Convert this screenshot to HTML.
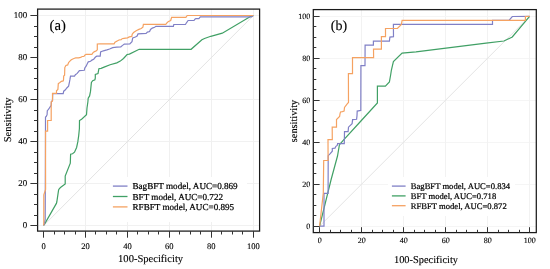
<!DOCTYPE html>
<html><head><meta charset="utf-8"><style>
html,body{margin:0;padding:0;background:#fff;}
body{width:550px;height:269px;overflow:hidden;position:relative;}
svg{position:absolute;left:0;top:0;display:block;}
svg text{font-family:"Liberation Serif", serif;stroke:#000;stroke-width:0.12px;text-rendering:geometricPrecision;}
.lg{stroke:#000;stroke-width:0.22px;}
</style></head><body>
<div style="position:absolute;left:0;top:0;width:550px;height:269px;will-change:transform;">
<svg width="550" height="269" viewBox="0 0 550 269">
<rect x="0" y="0" width="550" height="269" fill="#fff"/>
<line x1="37.60" y1="225.50" x2="259.60" y2="225.50" stroke="#f1f1f1" stroke-width="1"/>
<line x1="85.50" y1="9.10" x2="85.50" y2="231.10" stroke="#f0f0f0" stroke-width="1"/>
<line x1="37.60" y1="183.50" x2="259.60" y2="183.50" stroke="#f1f1f1" stroke-width="1"/>
<line x1="127.50" y1="9.10" x2="127.50" y2="231.10" stroke="#f0f0f0" stroke-width="1"/>
<line x1="37.60" y1="141.50" x2="259.60" y2="141.50" stroke="#f1f1f1" stroke-width="1"/>
<line x1="169.50" y1="9.10" x2="169.50" y2="231.10" stroke="#f0f0f0" stroke-width="1"/>
<line x1="37.60" y1="99.50" x2="259.60" y2="99.50" stroke="#f1f1f1" stroke-width="1"/>
<line x1="211.50" y1="9.10" x2="211.50" y2="231.10" stroke="#f0f0f0" stroke-width="1"/>
<line x1="253.50" y1="9.10" x2="253.50" y2="231.10" stroke="#f0f0f0" stroke-width="1"/>
<line x1="37.60" y1="15.50" x2="259.60" y2="15.50" stroke="#f1f1f1" stroke-width="1"/>
<line x1="43.55" y1="225.60" x2="253.25" y2="15.60" stroke="#e4e4e4" stroke-width="1"/>
<rect x="110" y="177" width="137" height="45" fill="#fff"/>
<polyline points="43.5,225.4 44.3,224.6 56.4,203.4 56.8,202.0 58.6,190.0 59.4,188.5 60.8,187.2 65.2,184.0 65.2,176.0 70.3,163.2 70.6,154.2 72.5,153.8 74.5,152.2 76.6,147.5 77.8,141.9 78.7,135.6 79.4,128.5 79.5,120.5 81.6,119.2 86.5,114.7 87.0,108.0 87.9,101.8 88.2,98.1 89.6,95.9 90.5,91.4 91.4,82.5 92.7,80.7 94.9,79.8 95.3,78.0 95.3,74.5 98.0,73.6 98.9,68.7 101.1,68.3 104.7,66.9 110.1,64.7 116.8,62.9 120.3,61.1 123.5,58.5 127.1,54.5 129.4,54.1 139.2,49.3 191.1,49.3 201.9,39.8 204.5,38.5 210.8,36.3 222.3,33.2 250.0,16.7 253.3,15.5" fill="none" stroke="#40a065" stroke-width="1.2" stroke-linejoin="miter"/>
<polyline points="43.5,225.4 44.3,224.2 45.2,219.4 45.3,189.4 45.5,131.0 45.5,117.0 46.2,116.5 47.1,114.7 47.3,110.7 48.5,109.4 49.4,108.0 50.3,106.7 51.2,105.3 51.5,101.5 52.5,100.5 52.7,93.6 63.2,93.6 63.7,91.2 65.4,89.8 66.8,88.0 68.6,86.2 69.5,81.8 70.0,79.2 70.5,76.1 74.5,76.1 75.4,74.7 77.2,73.4 79.4,70.7 84.3,70.3 84.8,68.0 86.1,66.2 87.4,63.6 88.3,61.8 90.6,61.3 91.9,60.1 93.7,59.2 95.5,57.0 96.8,56.2 100.2,56.2 100.6,52.0 103.4,50.8 106.9,49.9 109.6,49.0 112.7,47.6 116.8,47.2 120.8,46.8 122.6,45.4 124.3,44.1 129.8,43.8 132.0,41.6 132.7,37.9 135.4,37.0 137.1,36.1 138.0,33.9 146.1,33.4 147.4,32.1 149.6,31.6 150.5,29.4 152.3,28.1 154.6,27.2 155.9,26.3 173.4,26.3 173.8,24.5 185.4,24.5 186.8,22.3 188.1,20.5 194.0,20.5 194.9,19.2 195.8,18.7 198.9,18.7 200.3,16.9 251.5,16.9 253.3,15.5" fill="none" stroke="#8080c6" stroke-width="1.2" stroke-linejoin="miter"/>
<polyline points="43.5,225.4 43.8,224.2 43.8,194.8 45.6,189.4 45.5,131.1 47.6,131.1 47.6,120.5 51.2,120.5 51.2,101.9 52.5,101.0 52.5,93.4 56.5,93.4 56.5,90.7 57.9,89.4 58.3,83.6 59.6,82.7 61.4,81.3 63.2,80.9 63.5,80.0 63.7,76.1 64.6,75.2 64.8,67.6 65.9,65.4 67.7,64.9 68.6,62.5 69.9,61.2 71.3,59.8 72.8,59.0 74.5,58.3 75.8,57.9 78.5,57.9 80.7,57.4 82.1,56.5 83.9,56.5 84.8,55.2 86.1,54.3 91.9,54.3 93.2,52.5 94.6,51.6 96.4,50.7 97.3,49.8 97.3,44.0 100.0,43.9 114.1,43.9 115.0,42.3 117.2,40.9 119.0,40.0 121.2,39.6 122.1,38.7 123.9,38.3 127.5,37.8 129.3,36.9 130.6,36.6 131.8,36.4 132.2,34.3 133.6,32.5 135.4,31.2 137.1,30.3 138.9,29.4 141.2,28.5 142.9,27.2 143.4,24.4 165.8,24.3 167.1,22.7 168.5,21.4 170.7,20.5 171.6,17.4 185.9,17.4 187.2,15.5 253.3,15.5" fill="none" stroke="#f5a262" stroke-width="1.2" stroke-linejoin="miter"/>
<line x1="112.9" y1="186.10" x2="127.5" y2="186.10" stroke="#8080c6" stroke-width="1.3"/>
<text class="lg" x="132.5" y="189.10" font-size="9.12" fill="#000">BagBFT model, AUC=0.869</text>
<line x1="112.9" y1="196.50" x2="127.5" y2="196.50" stroke="#40a065" stroke-width="1.3"/>
<text class="lg" x="132.5" y="199.50" font-size="9.12" fill="#000">BFT model, AUC=0.722</text>
<line x1="112.9" y1="206.90" x2="127.5" y2="206.90" stroke="#f5a262" stroke-width="1.3"/>
<text class="lg" x="132.5" y="209.90" font-size="9.12" fill="#000">RFBFT model, AUC=0.895</text>
<rect x="37.6" y="9.1" width="222.00000000000003" height="222.0" fill="none" stroke="#1a1a1a" stroke-width="1.25"/>
<line x1="30.40" y1="225.50" x2="37.60" y2="225.50" stroke="#333" stroke-width="1"/>
<line x1="43.50" y1="231.10" x2="43.50" y2="237.70" stroke="#333" stroke-width="1"/>
<line x1="34.00" y1="215.50" x2="37.60" y2="215.50" stroke="#333" stroke-width="1"/>
<line x1="54.50" y1="231.10" x2="54.50" y2="234.50" stroke="#333" stroke-width="1"/>
<line x1="34.00" y1="204.50" x2="37.60" y2="204.50" stroke="#333" stroke-width="1"/>
<line x1="64.50" y1="231.10" x2="64.50" y2="234.50" stroke="#333" stroke-width="1"/>
<line x1="34.00" y1="194.50" x2="37.60" y2="194.50" stroke="#333" stroke-width="1"/>
<line x1="75.50" y1="231.10" x2="75.50" y2="234.50" stroke="#333" stroke-width="1"/>
<line x1="30.40" y1="183.50" x2="37.60" y2="183.50" stroke="#333" stroke-width="1"/>
<line x1="85.50" y1="231.10" x2="85.50" y2="237.70" stroke="#333" stroke-width="1"/>
<line x1="34.00" y1="173.50" x2="37.60" y2="173.50" stroke="#333" stroke-width="1"/>
<line x1="95.50" y1="231.10" x2="95.50" y2="234.50" stroke="#333" stroke-width="1"/>
<line x1="34.00" y1="162.50" x2="37.60" y2="162.50" stroke="#333" stroke-width="1"/>
<line x1="106.50" y1="231.10" x2="106.50" y2="234.50" stroke="#333" stroke-width="1"/>
<line x1="34.00" y1="152.50" x2="37.60" y2="152.50" stroke="#333" stroke-width="1"/>
<line x1="116.50" y1="231.10" x2="116.50" y2="234.50" stroke="#333" stroke-width="1"/>
<line x1="30.40" y1="141.50" x2="37.60" y2="141.50" stroke="#333" stroke-width="1"/>
<line x1="127.50" y1="231.10" x2="127.50" y2="237.70" stroke="#333" stroke-width="1"/>
<line x1="34.00" y1="131.50" x2="37.60" y2="131.50" stroke="#333" stroke-width="1"/>
<line x1="137.50" y1="231.10" x2="137.50" y2="234.50" stroke="#333" stroke-width="1"/>
<line x1="34.00" y1="120.50" x2="37.60" y2="120.50" stroke="#333" stroke-width="1"/>
<line x1="148.50" y1="231.10" x2="148.50" y2="234.50" stroke="#333" stroke-width="1"/>
<line x1="34.00" y1="110.50" x2="37.60" y2="110.50" stroke="#333" stroke-width="1"/>
<line x1="158.50" y1="231.10" x2="158.50" y2="234.50" stroke="#333" stroke-width="1"/>
<line x1="30.40" y1="99.50" x2="37.60" y2="99.50" stroke="#333" stroke-width="1"/>
<line x1="169.50" y1="231.10" x2="169.50" y2="237.70" stroke="#333" stroke-width="1"/>
<line x1="34.00" y1="89.50" x2="37.60" y2="89.50" stroke="#333" stroke-width="1"/>
<line x1="179.50" y1="231.10" x2="179.50" y2="234.50" stroke="#333" stroke-width="1"/>
<line x1="34.00" y1="78.50" x2="37.60" y2="78.50" stroke="#333" stroke-width="1"/>
<line x1="190.50" y1="231.10" x2="190.50" y2="234.50" stroke="#333" stroke-width="1"/>
<line x1="34.00" y1="68.50" x2="37.60" y2="68.50" stroke="#333" stroke-width="1"/>
<line x1="200.50" y1="231.10" x2="200.50" y2="234.50" stroke="#333" stroke-width="1"/>
<line x1="30.40" y1="57.50" x2="37.60" y2="57.50" stroke="#333" stroke-width="1"/>
<line x1="211.50" y1="231.10" x2="211.50" y2="237.70" stroke="#333" stroke-width="1"/>
<line x1="34.00" y1="47.50" x2="37.60" y2="47.50" stroke="#333" stroke-width="1"/>
<line x1="221.50" y1="231.10" x2="221.50" y2="234.50" stroke="#333" stroke-width="1"/>
<line x1="34.00" y1="36.50" x2="37.60" y2="36.50" stroke="#333" stroke-width="1"/>
<line x1="232.50" y1="231.10" x2="232.50" y2="234.50" stroke="#333" stroke-width="1"/>
<line x1="34.00" y1="26.50" x2="37.60" y2="26.50" stroke="#333" stroke-width="1"/>
<line x1="242.50" y1="231.10" x2="242.50" y2="234.50" stroke="#333" stroke-width="1"/>
<line x1="30.40" y1="15.50" x2="37.60" y2="15.50" stroke="#333" stroke-width="1"/>
<line x1="253.50" y1="231.10" x2="253.50" y2="237.70" stroke="#333" stroke-width="1"/>
<text x="27.1" y="228.10" font-size="8.9" text-anchor="end" fill="#000">0</text>
<text x="43.55" y="249.3" font-size="8.5" text-anchor="middle" fill="#000">0</text>
<text x="27.1" y="186.10" font-size="8.9" text-anchor="end" fill="#000">20</text>
<text x="85.49" y="249.3" font-size="8.5" text-anchor="middle" fill="#000">20</text>
<text x="27.1" y="144.10" font-size="8.9" text-anchor="end" fill="#000">40</text>
<text x="127.43" y="249.3" font-size="8.5" text-anchor="middle" fill="#000">40</text>
<text x="27.1" y="102.10" font-size="8.9" text-anchor="end" fill="#000">60</text>
<text x="169.37" y="249.3" font-size="8.5" text-anchor="middle" fill="#000">60</text>
<text x="27.1" y="60.10" font-size="8.9" text-anchor="end" fill="#000">80</text>
<text x="211.31" y="249.3" font-size="8.5" text-anchor="middle" fill="#000">80</text>
<text x="27.1" y="18.10" font-size="8.9" text-anchor="end" fill="#000">100</text>
<text x="253.25" y="249.3" font-size="8.5" text-anchor="middle" fill="#000">100</text>
<text x="150.6" y="262.4" font-size="10.55" text-anchor="middle" fill="#000">100-Specificity</text>
<text transform="translate(11.3,119.85) rotate(-90)" x="0" y="0" font-size="10.5" text-anchor="middle" fill="#000">Sensitivity</text>
<text x="49.6" y="29.6" font-size="14.7" fill="#000">(a)</text>
<line x1="313.30" y1="226.50" x2="536.30" y2="226.50" stroke="#f5f5f5" stroke-width="1"/>
<line x1="361.50" y1="9.60" x2="361.50" y2="232.60" stroke="#f2f2f2" stroke-width="1"/>
<line x1="313.30" y1="184.50" x2="536.30" y2="184.50" stroke="#f5f5f5" stroke-width="1"/>
<line x1="403.50" y1="9.60" x2="403.50" y2="232.60" stroke="#f2f2f2" stroke-width="1"/>
<line x1="313.30" y1="142.50" x2="536.30" y2="142.50" stroke="#f5f5f5" stroke-width="1"/>
<line x1="445.50" y1="9.60" x2="445.50" y2="232.60" stroke="#f2f2f2" stroke-width="1"/>
<line x1="313.30" y1="100.50" x2="536.30" y2="100.50" stroke="#f5f5f5" stroke-width="1"/>
<line x1="487.50" y1="9.60" x2="487.50" y2="232.60" stroke="#f2f2f2" stroke-width="1"/>
<line x1="313.30" y1="58.50" x2="536.30" y2="58.50" stroke="#f5f5f5" stroke-width="1"/>
<line x1="529.50" y1="9.60" x2="529.50" y2="232.60" stroke="#f2f2f2" stroke-width="1"/>
<line x1="313.30" y1="16.50" x2="536.30" y2="16.50" stroke="#f5f5f5" stroke-width="1"/>
<line x1="319.65" y1="226.10" x2="529.75" y2="16.10" stroke="#e4e4e4" stroke-width="1"/>
<rect x="388" y="177" width="127" height="39" fill="#fff"/>
<polyline points="319.6,226.1 331.0,180.0 337.5,156.0 339.4,145.0 340.8,143.2 344.8,138.7 360.0,122.0 377.4,102.9 377.4,86.1 385.4,86.1 389.4,82.0 390.8,74.0 391.4,70.0 393.4,61.6 402.1,53.1 416.0,51.8 486.0,43.2 503.9,41.0 512.3,37.0 529.6,16.3" fill="none" stroke="#40a065" stroke-width="1.2" stroke-linejoin="miter"/>
<polyline points="319.6,226.1 324.0,226.1 324.0,193.4 328.1,193.4 328.2,155.7 330.0,153.9 332.3,151.2 332.3,148.5 335.0,148.1 335.9,146.3 337.2,145.4 337.6,143.6 344.3,143.6 344.5,131.7 348.1,131.7 348.5,127.2 352.1,123.6 352.6,119.6 356.6,119.3 357.0,115.6 357.2,111.1 359.7,110.7 360.8,110.5 360.9,65.6 365.0,65.6 365.1,45.2 373.4,45.2 373.4,41.2 389.4,41.2 389.9,37.1 393.5,36.7 393.4,24.4 492.5,24.3 492.5,20.3 509.0,20.3 512.3,16.5 529.6,16.3" fill="none" stroke="#8080c6" stroke-width="1.2" stroke-linejoin="miter"/>
<polyline points="319.6,226.1 323.3,193.0 323.7,160.5 328.1,160.5 328.0,139.6 332.3,139.6 332.2,127.2 336.5,127.2 336.5,119.6 339.6,116.5 340.0,113.8 340.5,112.0 342.3,111.6 344.1,111.1 344.5,107.4 347.2,103.9 348.5,102.5 348.4,73.7 352.5,73.7 352.5,57.6 373.6,57.6 373.5,49.2 381.4,49.2 381.4,36.7 385.5,36.7 385.5,28.5 397.4,28.5 401.4,24.5 402.1,20.3 525.4,20.3 525.4,16.5 529.6,16.3" fill="none" stroke="#f5a262" stroke-width="1.2" stroke-linejoin="miter"/>
<line x1="391.9" y1="186.10" x2="405.6" y2="186.10" stroke="#8080c6" stroke-width="1.3"/>
<text class="lg" x="410.8" y="188.90" font-size="8.6" fill="#000">BagBFT model, AUC=0.834</text>
<line x1="391.9" y1="195.90" x2="405.6" y2="195.90" stroke="#40a065" stroke-width="1.3"/>
<text class="lg" x="410.8" y="198.70" font-size="8.6" fill="#000">BFT model, AUC=0.718</text>
<line x1="391.9" y1="205.70" x2="405.6" y2="205.70" stroke="#f5a262" stroke-width="1.3"/>
<text class="lg" x="410.8" y="208.50" font-size="8.6" fill="#000">RFBFT model, AUC=0.872</text>
<rect x="313.3" y="9.6" width="222.99999999999994" height="223.0" fill="none" stroke="#1a1a1a" stroke-width="1.25"/>
<line x1="313.30" y1="226.50" x2="319.60" y2="226.50" stroke="#333" stroke-width="1"/>
<line x1="319.50" y1="227.20" x2="319.50" y2="232.60" stroke="#333" stroke-width="1"/>
<line x1="313.30" y1="215.50" x2="316.30" y2="215.50" stroke="#333" stroke-width="1"/>
<line x1="330.50" y1="229.80" x2="330.50" y2="232.60" stroke="#333" stroke-width="1"/>
<line x1="313.30" y1="205.50" x2="316.30" y2="205.50" stroke="#333" stroke-width="1"/>
<line x1="340.50" y1="229.80" x2="340.50" y2="232.60" stroke="#333" stroke-width="1"/>
<line x1="313.30" y1="194.50" x2="316.30" y2="194.50" stroke="#333" stroke-width="1"/>
<line x1="351.50" y1="229.80" x2="351.50" y2="232.60" stroke="#333" stroke-width="1"/>
<line x1="313.30" y1="184.50" x2="319.60" y2="184.50" stroke="#333" stroke-width="1"/>
<line x1="361.50" y1="227.20" x2="361.50" y2="232.60" stroke="#333" stroke-width="1"/>
<line x1="313.30" y1="173.50" x2="316.30" y2="173.50" stroke="#333" stroke-width="1"/>
<line x1="372.50" y1="229.80" x2="372.50" y2="232.60" stroke="#333" stroke-width="1"/>
<line x1="313.30" y1="163.50" x2="316.30" y2="163.50" stroke="#333" stroke-width="1"/>
<line x1="382.50" y1="229.80" x2="382.50" y2="232.60" stroke="#333" stroke-width="1"/>
<line x1="313.30" y1="152.50" x2="316.30" y2="152.50" stroke="#333" stroke-width="1"/>
<line x1="393.50" y1="229.80" x2="393.50" y2="232.60" stroke="#333" stroke-width="1"/>
<line x1="313.30" y1="142.50" x2="319.60" y2="142.50" stroke="#333" stroke-width="1"/>
<line x1="403.50" y1="227.20" x2="403.50" y2="232.60" stroke="#333" stroke-width="1"/>
<line x1="313.30" y1="131.50" x2="316.30" y2="131.50" stroke="#333" stroke-width="1"/>
<line x1="414.50" y1="229.80" x2="414.50" y2="232.60" stroke="#333" stroke-width="1"/>
<line x1="313.30" y1="121.50" x2="316.30" y2="121.50" stroke="#333" stroke-width="1"/>
<line x1="424.50" y1="229.80" x2="424.50" y2="232.60" stroke="#333" stroke-width="1"/>
<line x1="313.30" y1="110.50" x2="316.30" y2="110.50" stroke="#333" stroke-width="1"/>
<line x1="435.50" y1="229.80" x2="435.50" y2="232.60" stroke="#333" stroke-width="1"/>
<line x1="313.30" y1="100.50" x2="319.60" y2="100.50" stroke="#333" stroke-width="1"/>
<line x1="445.50" y1="227.20" x2="445.50" y2="232.60" stroke="#333" stroke-width="1"/>
<line x1="313.30" y1="89.50" x2="316.30" y2="89.50" stroke="#333" stroke-width="1"/>
<line x1="456.50" y1="229.80" x2="456.50" y2="232.60" stroke="#333" stroke-width="1"/>
<line x1="313.30" y1="79.50" x2="316.30" y2="79.50" stroke="#333" stroke-width="1"/>
<line x1="466.50" y1="229.80" x2="466.50" y2="232.60" stroke="#333" stroke-width="1"/>
<line x1="313.30" y1="68.50" x2="316.30" y2="68.50" stroke="#333" stroke-width="1"/>
<line x1="477.50" y1="229.80" x2="477.50" y2="232.60" stroke="#333" stroke-width="1"/>
<line x1="313.30" y1="58.50" x2="319.60" y2="58.50" stroke="#333" stroke-width="1"/>
<line x1="487.50" y1="227.20" x2="487.50" y2="232.60" stroke="#333" stroke-width="1"/>
<line x1="313.30" y1="47.50" x2="316.30" y2="47.50" stroke="#333" stroke-width="1"/>
<line x1="498.50" y1="229.80" x2="498.50" y2="232.60" stroke="#333" stroke-width="1"/>
<line x1="313.30" y1="37.50" x2="316.30" y2="37.50" stroke="#333" stroke-width="1"/>
<line x1="508.50" y1="229.80" x2="508.50" y2="232.60" stroke="#333" stroke-width="1"/>
<line x1="313.30" y1="26.50" x2="316.30" y2="26.50" stroke="#333" stroke-width="1"/>
<line x1="519.50" y1="229.80" x2="519.50" y2="232.60" stroke="#333" stroke-width="1"/>
<line x1="313.30" y1="16.50" x2="319.60" y2="16.50" stroke="#333" stroke-width="1"/>
<line x1="529.50" y1="227.20" x2="529.50" y2="232.60" stroke="#333" stroke-width="1"/>
<text x="310.2" y="228.90" font-size="8" text-anchor="end" fill="#000">0</text>
<text x="319.65" y="243.2" font-size="8" text-anchor="middle" fill="#000">0</text>
<text x="310.2" y="186.90" font-size="8" text-anchor="end" fill="#000">20</text>
<text x="361.67" y="243.2" font-size="8" text-anchor="middle" fill="#000">20</text>
<text x="310.2" y="144.90" font-size="8" text-anchor="end" fill="#000">40</text>
<text x="403.69" y="243.2" font-size="8" text-anchor="middle" fill="#000">40</text>
<text x="310.2" y="102.90" font-size="8" text-anchor="end" fill="#000">60</text>
<text x="445.71" y="243.2" font-size="8" text-anchor="middle" fill="#000">60</text>
<text x="310.2" y="60.90" font-size="8" text-anchor="end" fill="#000">80</text>
<text x="487.73" y="243.2" font-size="8" text-anchor="middle" fill="#000">80</text>
<text x="310.2" y="18.90" font-size="8" text-anchor="end" fill="#000">100</text>
<text x="529.75" y="243.2" font-size="8" text-anchor="middle" fill="#000">100</text>
<text x="426" y="262.6" font-size="10.4" text-anchor="middle" fill="#000">100-Specificity</text>
<text transform="translate(296.8,121) rotate(-90)" x="0" y="0" font-size="10.3" text-anchor="middle" fill="#000">sensitivity</text>
<text x="330.8" y="29.8" font-size="14" fill="#000">(b)</text>
</svg>
</div>
</body></html>
